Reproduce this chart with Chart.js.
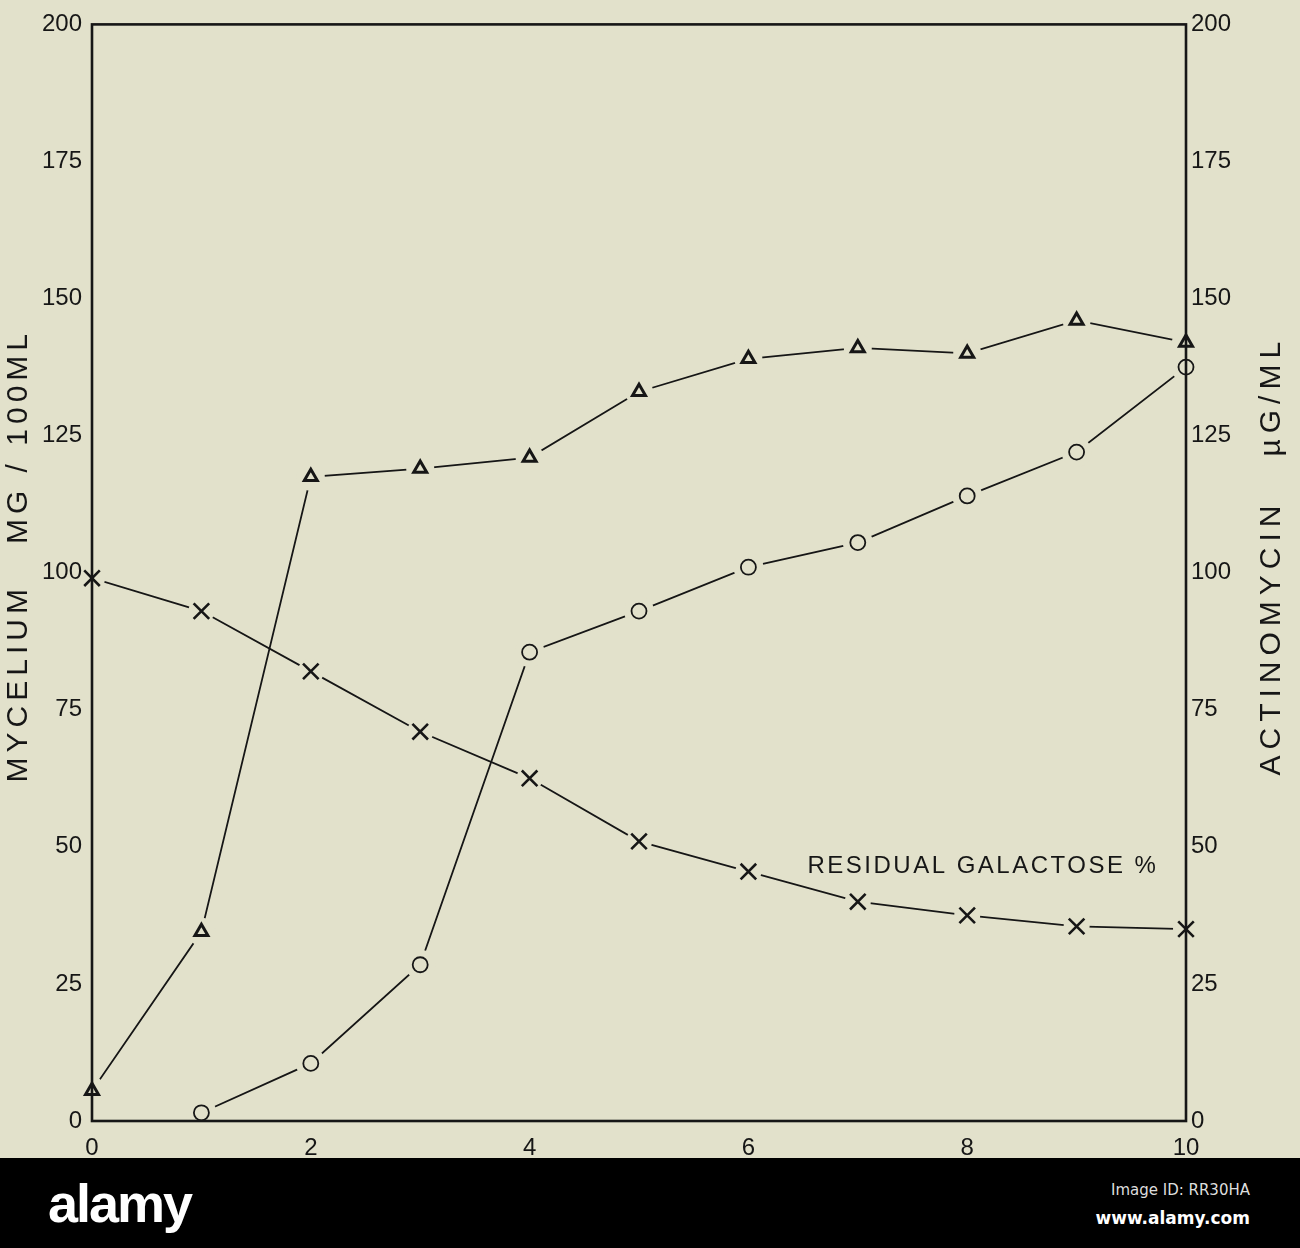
<!DOCTYPE html>
<html>
<head>
<meta charset="utf-8">
<script src="https://cdn.jsdelivr.net/npm/chart.js@4.4.1/dist/chart.umd.min.js"></script>
<style>
  html, body { margin: 0; padding: 0; background: #e2e1cb; }
  #wrap { position: relative; width: 1300px; height: 1158px; background: #e2e1cb; }
  #footer { position: relative; width: 1300px; height: 90px; background: #000; color: #fff; overflow: hidden; }
  #footer .logo { position: absolute; left: 48px; top: 14px; font: bold 54px "Liberation Sans Narrow", "Liberation Sans", sans-serif; letter-spacing: -2px; }
  #footer .id { position: absolute; right: 50px; top: 23px; font: 15px "DejaVu Sans", sans-serif; color: #ddd; }
  #footer .www { position: absolute; right: 50px; top: 50px; font: bold 17px "DejaVu Sans", sans-serif; }
</style>
</head>
<body>
<div id="wrap"><canvas id="c" width="1300" height="1158"></canvas></div>
<div id="footer">
  <div class="logo">alamy</div>
  <div class="id">Image ID: RR30HA</div>
  <div class="www">www.alamy.com</div>
</div>
<script>
// ---- data ----
const days = [0, 1, 2, 3, 4, 5, 6, 7, 8, 9, 10];
const myceliumMg = [5.5, 34.5, 117.5, 119, 121, 133, 139, 141, 140, 146, 142];
const actinomycinUg = [null, 1.5, 10.5, 28.5, 85.5, 93, 101, 105.5, 114, 122, 137.5];
const galactosePct = [99, 93, 82, 71, 62.5, 51, 45.5, 40, 37.5, 35.5, 35];
const xTickValues = [0, 2, 4, 6, 8, 10];
const yTickValues = [0, 25, 50, 75, 100, 125, 150, 175, 200];
const leftTitle = 'MYCELIUM   MG / 100ML';
const rightTitle = 'ACTINOMYCIN   \u00B5G/ML';
const galactoseLabel = 'RESIDUAL GALACTOSE %';
const galactoseLabelAt = { x: 6.54, y: 46.5 };

const INK = '#161616';
const PAPER = '#e2e1cb';

function pts(arr) { return days.map((d, i) => ({ x: d, y: arr[i] })).filter(p => p.y !== null); }

// connecting line; its paper-coloured points open small gaps round each marker
function lineSet(arr, axis, gap) {
  return { type: 'line', data: pts(arr), yAxisID: axis, showLine: true,
           borderColor: INK, borderWidth: 1.8, tension: 0, fill: false,
           pointStyle: 'circle', pointRadius: gap, pointBorderWidth: 0,
           pointBorderColor: PAPER, pointBackgroundColor: PAPER, order: 5, clip: 0 };
}
function markSet(arr, axis, style, r, bw) {
  return { type: 'scatter', data: pts(arr), yAxisID: axis, showLine: false,
           pointStyle: style, pointRadius: r, pointBorderWidth: bw,
           pointBorderColor: INK, pointBackgroundColor: 'rgba(0,0,0,0)', order: 0, clip: false };
}

const framePlugin = {
  id: 'frame',
  afterDatasetsDraw(chart) {
    const ctx = chart.ctx, a = chart.chartArea;
    ctx.save();
    ctx.strokeStyle = INK;
    ctx.lineWidth = 2.6;
    ctx.strokeRect(a.left, a.top, a.right - a.left, a.bottom - a.top);
    ctx.restore();
  },
  afterDraw(chart) {
    const ctx = chart.ctx, a = chart.chartArea;
    const cy = (a.top + a.bottom) / 2 - 17;
    ctx.save();
    ctx.fillStyle = INK;
    ctx.font = '30px "Liberation Sans", Arial, sans-serif';
    ctx.textAlign = 'center';
    ctx.textBaseline = 'middle';
    ctx.letterSpacing = '5px';
    ctx.save();
    ctx.translate(19, cy);
    ctx.rotate(-Math.PI / 2);
    ctx.fillText(leftTitle, 0, 0);
    ctx.restore();
    ctx.save();
    ctx.letterSpacing = '6px';
    ctx.translate(1272, cy);
    ctx.rotate(-Math.PI / 2);
    ctx.fillText(rightTitle, 0, 0);
    ctx.restore();
    const xs = chart.scales.x, ys = chart.scales.y;
    ctx.font = '24px "Liberation Sans", Arial, sans-serif';
    ctx.letterSpacing = '2.5px';
    ctx.textAlign = 'left';
    ctx.fillText(galactoseLabel, xs.getPixelForValue(galactoseLabelAt.x), ys.getPixelForValue(galactoseLabelAt.y));
    ctx.restore();
  }
};

const tickFont = { family: '"Liberation Sans", Arial, sans-serif', size: 24 };

new Chart(document.getElementById('c'), {
  type: 'line',
  data: {
    datasets: [
      lineSet(myceliumMg, 'y', 14),
      lineSet(actinomycinUg, 'y2', 15),
      lineSet(galactosePct, 'y', 13),
      markSet(myceliumMg, 'y', 'triangle', 7.5, 3),
      markSet(actinomycinUg, 'y2', 'circle', 7.5, 1.8),
      markSet(galactosePct, 'y', 'crossRot', 11, 2.6)
    ]
  },
  options: {
    responsive: false,
    animation: false,
    devicePixelRatio: 1,
    layout: { padding: { top: 20, left: 0, right: 0, bottom: 0 } },
    plugins: { legend: { display: false }, tooltip: { enabled: false } },
    scales: {
      x: {
        type: 'linear', min: 0, max: 10,
        grid: { display: false, drawTicks: false },
        border: { display: false },
        afterBuildTicks: s => { s.ticks = xTickValues.map(v => ({ value: v })); },
        afterFit: s => { s.height = 37; },
        ticks: { color: INK, font: tickFont, padding: 13, maxRotation: 0 }
      },
      y: {
        type: 'linear', position: 'left', min: 0, max: 200,
        grid: { display: false, drawTicks: false },
        border: { display: false },
        afterBuildTicks: s => { s.ticks = yTickValues.map(v => ({ value: v })); },
        afterFit: s => { s.width = 92; },
        ticks: { color: INK, font: tickFont, padding: 10 }
      },
      y2: {
        type: 'linear', position: 'right', min: 0, max: 200,
        grid: { display: false, drawTicks: false },
        border: { display: false },
        afterBuildTicks: s => { s.ticks = yTickValues.map(v => ({ value: v })); },
        afterFit: s => { s.width = 114; },
        ticks: { color: INK, font: tickFont, padding: 5 }
      }
    }
  },
  plugins: [framePlugin]
});
</script>
</body>
</html>
